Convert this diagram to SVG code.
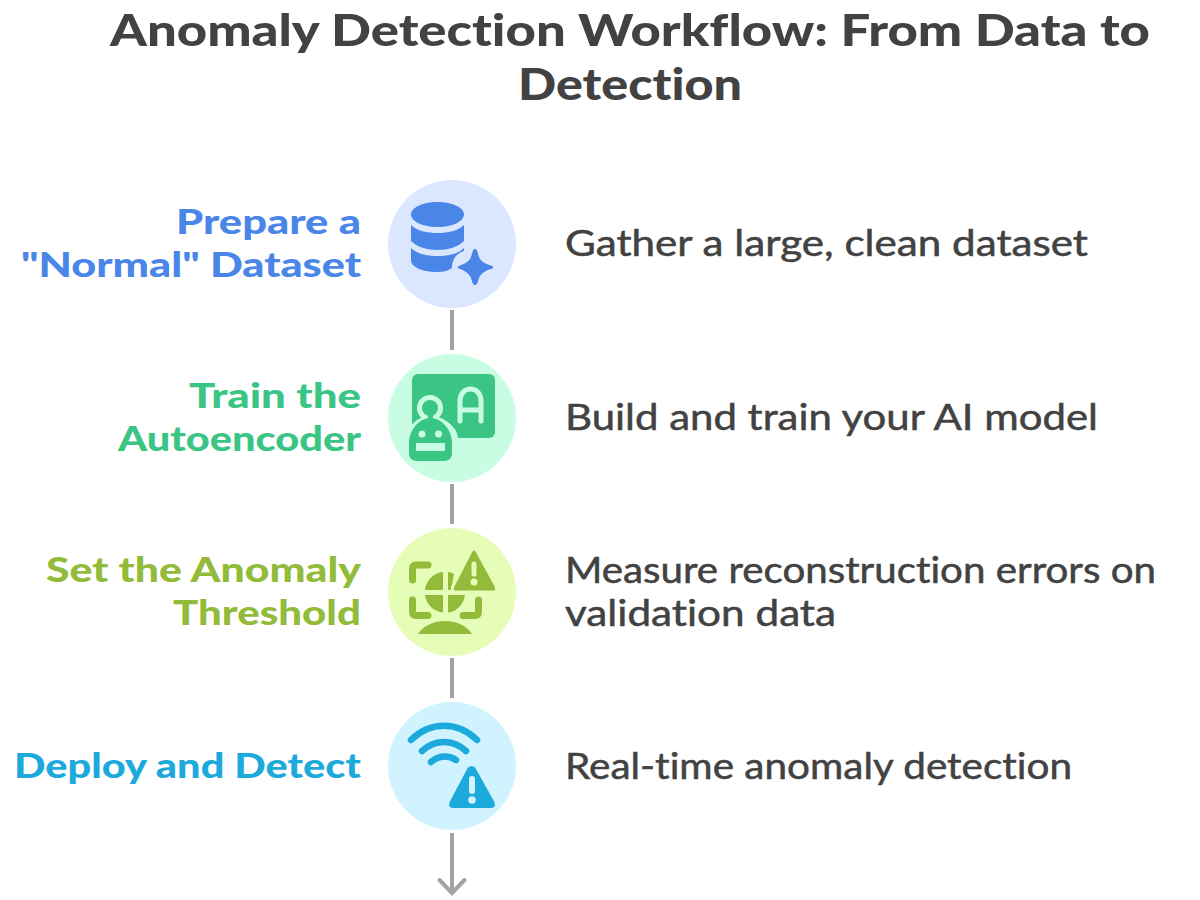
<svg xmlns="http://www.w3.org/2000/svg" width="1200" height="900" viewBox="0 0 1200 900">
<style>
text{font-family:"Lato","Noto Sans",sans-serif;font-variant-ligatures:none}
.t{font-size:44px;font-weight:900;fill:#424242;text-anchor:middle}
.l{font-size:35px;font-weight:900;text-anchor:end}
.d{font-size:36px;font-weight:400;fill:#424242;stroke:#424242;stroke-width:.5}
.c{stroke:#a3a3a3;stroke-width:4;fill:none}
</style>
<rect width="1200" height="900" fill="#fff"/>
<g id="title">
<text class="t" x="630" y="46" textLength="1040" lengthAdjust="spacingAndGlyphs">Anomaly Detection Workflow: From Data to</text>
<text class="t" x="630" y="100" textLength="224" lengthAdjust="spacingAndGlyphs">Detection</text>
</g>
<g id="connectors">
<path class="c" d="M452 310V350M452 484V524M452 658V698M452 833V892"/>
<path class="c" d="M439.500 880L452 893L464.500 880" stroke-linecap="round"/>
</g>
<g id="node-1">
<circle cx="452" cy="244" r="64" fill="#dbe7ff"/>
<path fill="#4a86e8" d="M411 214.500C411 207.500 423 202 437.500 202S464 207.500 464 214.500S452 227 437.500 227S411 221.500 411 214.500Z"/>
<path fill="#4a86e8" d="M411 225C417 231 427 233 437.500 233S458 231 464 225V241C458 247 448 250 437.500 250S417 247 411 241Z"/>
<path fill="#4a86e8" d="M411 248C417 254 427 256 437.500 256S458 254 464 248V251C457 253 452 259 452 268C447 271 443 272 437.500 272C422 272 411 267 411 260Z"/>
<path fill="#4a86e8" d="M475 249C477 249 477.500 252 479 257C481 262 486 264 491 265.500C494 266.500 494 268 491 269C486 270.500 481 273 479 278C477.500 283 477 285 475 285S472.500 283 471 278C469 273 464 270.500 460 269C457 268 457 266.500 460 265.500C464 264 469 262 471 257C472.500 252 473 249 475 249Z"/>
<text class="l" fill="#4a86e8" x="361" y="234" textLength="185" lengthAdjust="spacingAndGlyphs">Prepare a</text>
<text class="l" fill="#4a86e8" x="361" y="277" textLength="340" lengthAdjust="spacingAndGlyphs">"Normal" Dataset</text>
<text class="d" x="565" y="256" textLength="523" lengthAdjust="spacingAndGlyphs">Gather a large, clean dataset</text>
</g>
<g id="node-2">
<circle cx="452" cy="418" r="64" fill="#c8fde3"/>
<rect x="412" y="374" width="83" height="64" rx="6" fill="#3bc585"/>
<path fill="none" stroke="#c8fde3" stroke-width="5" stroke-linecap="round" d="M460 421V401C460 385 481 385 481 401V421M460 410H481"/>
<path fill="#c8fde3" d="M405 443C405 428 417 416 430.500 416S458 428 458 438H456V455C456 461 450 465 444 465H417C410 465 405 460 405 453Z"/>
<circle cx="430" cy="408" r="10.500" fill="#3bc585" stroke="#c8fde3" stroke-width="5"/>
<path fill="#3bc585" d="M409 443C409 430 419 418 430.500 418S452 430 452 443V453C452 458 449 461 444 461H417C412 461 409 458 409 453Z"/>
<rect x="428" y="414" width="5" height="8" fill="#3bc585"/>
<circle cx="422" cy="434" r="3.500" fill="#c8fde3"/><circle cx="438.500" cy="434" r="3.500" fill="#c8fde3"/>
<rect x="416" y="443" width="29" height="8" fill="#c8fde3"/>
<text class="l" fill="#3bc585" x="361" y="408" textLength="172" lengthAdjust="spacingAndGlyphs">Train the</text>
<text class="l" fill="#3bc585" x="361" y="451" textLength="243" lengthAdjust="spacingAndGlyphs">Autoencoder</text>
<text class="d" x="565" y="430" textLength="533" lengthAdjust="spacingAndGlyphs">Build and train your AI model</text>
</g>
<g id="node-3">
<circle cx="452" cy="592" r="64" fill="#e6fdb8"/>
<path fill="none" stroke="#92bb3a" stroke-width="7" stroke-linecap="round" stroke-linejoin="round" d="M428 565H416Q412.500 565 412.500 569V580M412.500 600V611Q412.500 615.500 416 615.500H428M463 615.500H475Q478.500 615.500 478.500 611V600"/>
<path fill="#92bb3a" d="M443 572A20 20 0 0 0 425 590H443ZM443 595H425A20 20 0 0 0 443 612.500ZM448 595V612.500A20 20 0 0 0 465 595ZM448 572V590H451L454 574Q451 572 448 572Z"/>
<path fill="#92bb3a" d="M418 634C424 625 434 621 445 621S466 625 472 634Z"/>
<path fill="#92bb3a" stroke="#e6fdb8" stroke-width="3" stroke-linejoin="round" d="M471 551Q474 547 477 551L496 586Q498 592 494 592H455Q451 592 453 586Z"/>
<path stroke="#e6fdb8" stroke-width="5" stroke-linecap="round" d="M474 564V574"/>
<circle cx="474" cy="582" r="3.500" fill="#e6fdb8"/>
<text class="l" fill="#92bb3a" x="361" y="582" textLength="315" lengthAdjust="spacingAndGlyphs">Set the Anomaly</text>
<text class="l" fill="#92bb3a" x="361" y="625" textLength="188" lengthAdjust="spacingAndGlyphs">Threshold</text>
<text class="d" x="565" y="583" textLength="591" lengthAdjust="spacingAndGlyphs">Measure reconstruction errors on</text>
<text class="d" x="565" y="626" textLength="271" lengthAdjust="spacingAndGlyphs">validation data</text>
</g>
<g id="node-4">
<circle cx="452" cy="766" r="64" fill="#d0f3ff"/>
<path fill="none" stroke="#1ca9dc" stroke-width="6.500" stroke-linecap="round" d="M411 740C430 721 458 721 477 740M422 751C435 739 453 739 466 751M431 762C439 755 449 755 456 760"/>
<path fill="#1ca9dc" stroke="#d0f3ff" stroke-width="2" stroke-linejoin="round" d="M467 767Q472 763 476 767L495 801Q498 809 491 809H453Q446 809 449 801Z"/>
<path stroke="#d0f3ff" stroke-width="6" stroke-linecap="round" d="M472 779V791"/>
<circle cx="472" cy="800" r="3.800" fill="#d0f3ff"/>
<text class="l" fill="#1ca9dc" x="361" y="778" textLength="347" lengthAdjust="spacingAndGlyphs">Deploy and Detect</text>
<text class="d" x="565" y="779" textLength="507" lengthAdjust="spacingAndGlyphs">Real-time anomaly detection</text>
</g>
</svg>
